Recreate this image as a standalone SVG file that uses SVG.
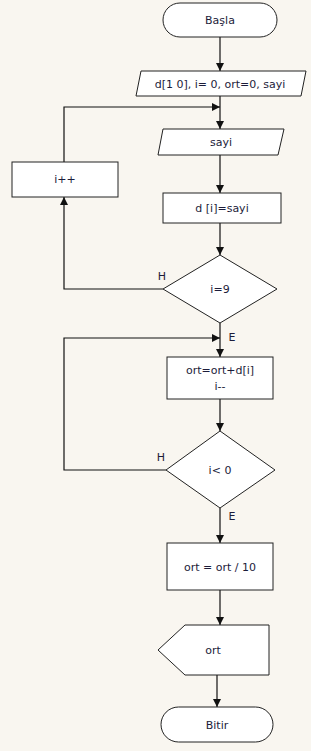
<svg xmlns="http://www.w3.org/2000/svg" width="311" height="751" viewBox="0 0 311 751">
<style>
.s{fill:#fff;stroke:#222;stroke-width:1}
.t{font-family:"DejaVu Sans","Liberation Sans",Arial,sans-serif;font-size:11px;fill:#1c1c3a;text-anchor:middle;dominant-baseline:central}
.l{font-family:"DejaVu Sans","Liberation Sans",Arial,sans-serif;font-size:11px;fill:#1c1c3a;text-anchor:middle;dominant-baseline:central}
.c{fill:none;stroke:#111;stroke-width:1.2}
</style>
<defs>
<marker id="a" viewBox="0 0 10 10" refX="10" refY="5" markerWidth="8" markerHeight="8" markerUnits="userSpaceOnUse" orient="auto">
<path d="M0,0 L10,5 L0,10 z" fill="#111"/>
</marker>
</defs>
<rect width="311" height="751" fill="#f9f6f0"/>
<g id="connectors">
<path class="c" d="M220,37 V71" marker-end="url(#a)"/>
<path class="c" d="M220,96 V129" marker-end="url(#a)"/>
<path class="c" d="M64,162 V107 H220" marker-end="url(#a)"/>
<path class="c" d="M220,155 V193" marker-end="url(#a)"/>
<path class="c" d="M220,223 V255" marker-end="url(#a)"/>
<path class="c" d="M163,289 H64 V197" marker-end="url(#a)"/>
<path class="c" d="M220,323 V357" marker-end="url(#a)"/>
<path class="c" d="M166,470 H64 V338 H220" marker-end="url(#a)"/>
<path class="c" d="M220,399 V431" marker-end="url(#a)"/>
<path class="c" d="M220,508 V543" marker-end="url(#a)"/>
<path class="c" d="M220,590 V625" marker-end="url(#a)"/>
<path class="c" d="M217,675 V707" marker-end="url(#a)"/>
<text class="l" x="162" y="276">H</text>
<text class="l" x="232" y="337">E</text>
<text class="l" x="161" y="457">H</text>
<text class="l" x="232" y="516">E</text>
</g>
<g id="basla">
<rect class="s" x="163" y="3" width="114" height="34" rx="17"/>
<text class="t" x="220" y="20">Başla</text>
</g>
<g id="init">
<polygon class="s" points="141,71 306,71 301,96 136,96"/>
<text class="t" x="220" y="84">d[1 0], i= 0, ort=0, sayi</text>
</g>
<g id="sayi">
<polygon class="s" points="163,129 284,129 278,155 158,155"/>
<text class="t" x="221" y="142">sayi</text>
</g>
<g id="inc">
<rect class="s" x="12" y="162" width="106" height="35"/>
<text class="t" x="65" y="179">i++</text>
</g>
<g id="assign">
<rect class="s" x="163" y="193" width="118" height="30"/>
<text class="t" x="222" y="208">d [i]=sayi</text>
</g>
<g id="cond1">
<polygon class="s" points="220,255 277,289 220,323 163,289"/>
<text class="t" x="220" y="289">i=9</text>
</g>
<g id="sum">
<rect class="s" x="167" y="357" width="106" height="42"/>
<text class="t" x="220" y="370">ort=ort+d[i]</text>
<text class="t" x="220" y="386">i--</text>
</g>
<g id="cond2">
<polygon class="s" points="220,431 275,470 220,508 166,470"/>
<text class="t" x="220" y="470">i&lt; 0</text>
</g>
<g id="avg">
<rect class="s" x="167" y="543" width="106" height="47"/>
<text class="t" x="220" y="567">ort = ort / 10</text>
</g>
<g id="out">
<polygon class="s" points="185,625 269,625 269,675 185,675 158,650"/>
<text class="t" x="213" y="650">ort</text>
</g>
<g id="bitir">
<rect class="s" x="161" y="707" width="112" height="35" rx="17.5"/>
<text class="t" x="217" y="725">Bitir</text>
</g>
</svg>
